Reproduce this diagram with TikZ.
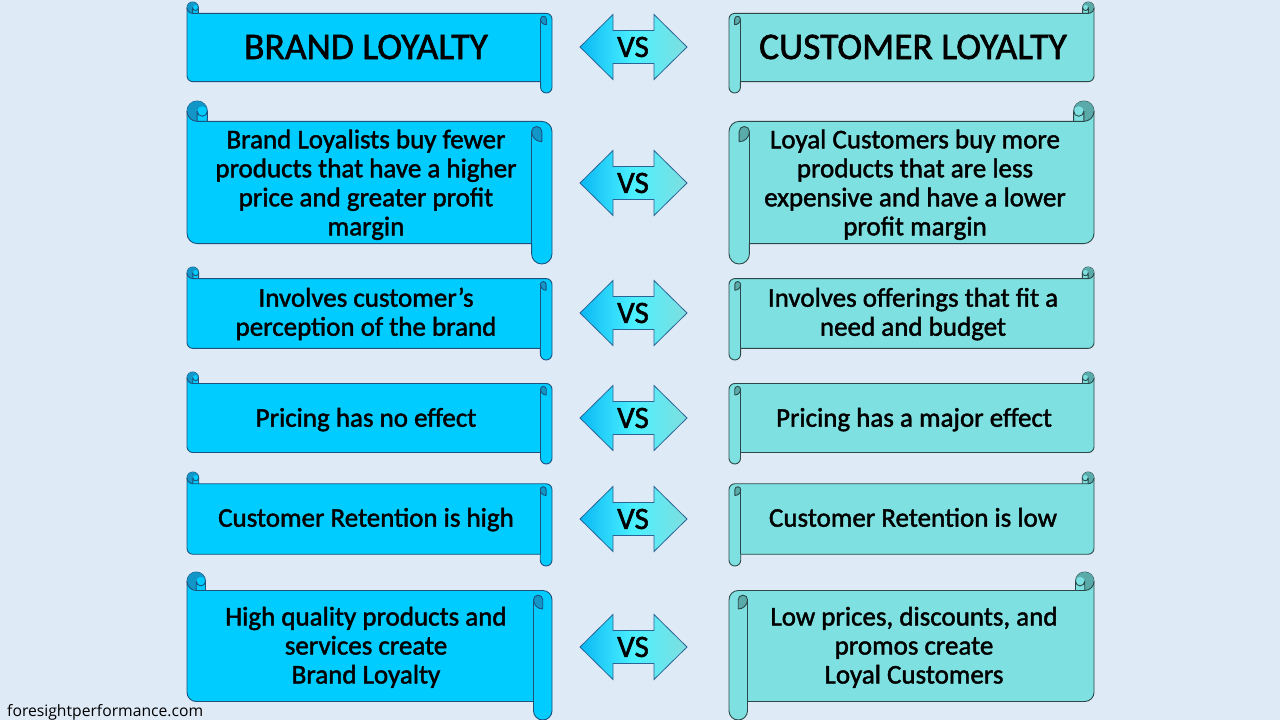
\documentclass[tikz,border=0pt]{standalone}
\usepackage{fontspec}
\setmainfont{Carlito}
\newfontfamily\semib{Carlito}[FakeBold=1.6]
\newfontfamily\footfont{Open Sans}
\definecolor{bgc}{RGB}{222,234,246}
\definecolor{brandfill}{RGB}{0,204,255}
\definecolor{branddark}{RGB}{18,150,200}
\definecolor{custfill}{RGB}{126,224,224}
\definecolor{custdark}{RGB}{90,170,170}
\definecolor{brandline}{RGB}{28,82,125}
\definecolor{custline}{RGB}{45,72,72}
\definecolor{arrline}{RGB}{45,100,150}
\definecolor{arrleft}{RGB}{10,185,245}
\definecolor{arrmid}{RGB}{75,240,255}
\definecolor{arrright}{RGB}{128,222,222}
\newcommand{\mlines}[1]{\begin{tabular}[t]{@{}c@{}}#1\end{tabular}}
% scroll in local coords (0,0)-(w,h), y downwards
\newcommand{\scrollshape}[5]{%
 \pgfmathsetmacro\scW{#1}%
 \pgfmathsetmacro\scH{#2}%
 \pgfmathsetmacro\scC{0.125*\scH}%
 \pgfmathsetmacro\scCh{\scC/2}%
 \pgfmathsetmacro\scCq{\scC/4}%
 \pgfmathsetmacro\scYc{\scC+\scCh}%
 \pgfmathsetmacro\scYd{2*\scC}%
 \pgfmathsetmacro\scYf{\scH-\scC}%
 \pgfmathsetmacro\scYg{\scH-\scCh}%
 \pgfmathsetmacro\scYe{\scYf-\scCh}%
 \pgfmathsetmacro\scXc{\scW-\scC}%
 \pgfmathsetmacro\scXd{\scW-\scCh}%
 \path[fill=#3,draw=#5,scrollline]
  (0,\scYc) arc[start angle=180,end angle=270,radius=\scCh]
  -- (\scXc,\scC) -- (\scXc,\scCh) arc[start angle=180,end angle=360,radius=\scCh]
  -- (\scW,\scYe) arc[start angle=0,end angle=90,radius=\scCh]
  -- (\scC,\scYf) -- (\scC,\scYg) arc[start angle=0,end angle=180,radius=\scCh] -- cycle;
 \path[fill=#4]
  (\scXd,\scC) arc[start angle=90,end angle=-180,radius=\scCh]
  arc[start angle=180,end angle=360,radius=\scCq] -- cycle;
 \path[fill=#4]
  (\scCh,\scYd) arc[start angle=90,end angle=0,radius=\scCh]
  arc[start angle=0,end angle=-180,radius=\scCq] -- cycle;
 \draw[#5,scrollline] (\scXc,\scC) -- (\scXd,\scC) arc[start angle=90,end angle=0,radius=\scCh];
 \draw[#5,scrollline] (\scXd,\scC) -- (\scXd,\scCh) arc[start angle=0,end angle=180,radius=\scCq];
 \draw[#5,scrollline] (\scCh,\scYd) -- (\scCh,\scYc) arc[start angle=180,end angle=360,radius=\scCq] arc[start angle=0,end angle=90,radius=\scCh];
 \draw[#5,scrollline] (\scC,\scYc) -- (\scC,\scYf);
}
\newcommand{\brandscroll}[2]{\begin{scope}[shift={(552,#1)},xscale=-1]\scrollshape{365}{#2-#1}{brandfill}{branddark}{brandline}\end{scope}}
\newcommand{\custscroll}[2]{\begin{scope}[shift={(729,#1)}]\scrollshape{365}{#2-#1}{custfill}{custdark}{custline}\end{scope}}
\newcommand{\vsarrow}[2]{%
 \path[vsarrow] (580,#1) -- (613,#1-32.5) -- (613,#1-16.5) -- (654,#1-16.5) -- (654,#1-32.5)
  -- (687,#1) -- (654,#1+32.5) -- (654,#1+16.5) -- (613,#1+16.5) -- (613,#1+32.5) -- cycle;
 \node[vstxt] (#2) at (633,#1) {VS};
}
\tikzset{
 scrollline/.style={line width=0.9pt,line join=round},
 vsarrow/.style={draw=arrline,line width=0.8pt,line join=miter,left color=arrleft,right color=arrright,middle color=arrmid},
 vstxt/.style={font=\semib\fontsize{31}{36}\selectfont,inner sep=0pt,text=black},
 headtxt/.style={font=\semib\fontsize{37.5}{40}\selectfont,inner sep=0pt,anchor=base,text=black},
 bodytxt/.style={font=\semib\fontsize{27}{29}\selectfont,inner sep=0pt,anchor=base,text=black},
 foottxt/.style={font=\footfont\fontsize{15.7}{18}\selectfont,inner sep=0pt,anchor=base west,text=black}
}
\begin{document}
\begin{tikzpicture}[x=1pt,y=1pt,yscale=-1]
\useasboundingbox (0,0) rectangle (1280,720);
\fill[bgc] (0,0) rectangle (1280,720);
% scrolls
\brandscroll{2}{93}
\custscroll{2}{93}
\brandscroll{101}{264}
\custscroll{101}{264}
\brandscroll{267}{360}
\custscroll{267}{360}
\brandscroll{372}{464}
\custscroll{372}{464}
\brandscroll{472}{566}
\custscroll{472}{566}
\brandscroll{572}{720}
\custscroll{572}{720}
% arrows
\vsarrow{47}{vs1}
\vsarrow{183}{vs2}
\vsarrow{313}{vs3}
\vsarrow{418}{vs4}
\vsarrow{519}{vs5}
\vsarrow{647}{vs6}
% texts
\node[headtxt] (bh) at (366,59) {BRAND LOYALTY};
\node[headtxt] (ch) at (913,59) {CUSTOMER LOYALTY};
\node[bodytxt] (b2) at (366,148.3) {\mlines{Brand Loyalists buy fewer\\products that have a higher\\price and greater profit\\margin}};
\node[bodytxt] (c2) at (915,148.3) {\mlines{Loyal Customers buy more\\products that are less\\expensive and have a lower\\profit margin}};
\node[bodytxt] (b3) at (366,306.7) {\mlines{Involves customer’s\\perception of the brand}};
\node[bodytxt] (c3) at (913,306.7) {\mlines{Involves offerings that fit a\\need and budget}};
\node[bodytxt] (b4) at (366,426.7) {Pricing has no effect};
\node[bodytxt] (c4) at (914,426.7) {Pricing has a major effect};
\node[bodytxt] (b5) at (366,526.7) {Customer Retention is high};
\node[bodytxt] (c5) at (913,526.7) {Customer Retention is low};
\node[bodytxt] (b6) at (366,625.5) {\mlines{High quality products and\\services create\\Brand Loyalty}};
\node[bodytxt] (c6) at (914,625.5) {\mlines{Low prices, discounts, and\\promos create\\Loyal Customers}};
\node[foottxt] (ft) at (7,716.5) {foresightperformance.com};
\end{tikzpicture}
\end{document}
